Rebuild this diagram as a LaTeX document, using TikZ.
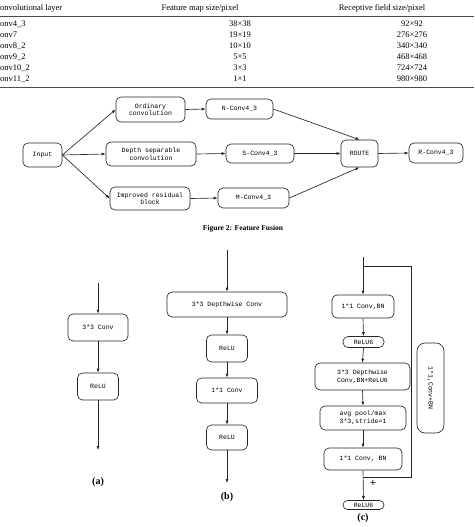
\documentclass[tikz,border=0pt]{standalone}
\usepackage{fontspec}
\setmainfont{Liberation Serif}
\newfontfamily\boxfont{Liberation Mono}
\usetikzlibrary{arrows.meta}
\begin{document}
\begin{tikzpicture}[x=1pt,y=-1pt,
  tabtxt/.style={font=\fontsize{8.5}{9}\selectfont, inner sep=0pt},
  fbox/.style={draw=black!85, line width=0.65pt, rounded corners=5pt, align=center,
    font=\boxfont\fontsize{6.5}{7.6}\selectfont, inner sep=1pt},
  conn/.style={draw=black!85, line width=0.65pt, -{Latex[length=4pt,width=3pt]}},
  plainline/.style={draw=black!85, line width=0.65pt},
  sublabel/.style={font=\bfseries\fontsize{10}{11}\selectfont, inner sep=0pt}]
\useasboundingbox (0,0) rectangle (474,527);
% ---------- table ----------
\node[tabtxt, anchor=west] (h1) at (0,8) {onvolutional layer};
\node[tabtxt] (h2) at (200,8) {Feature map size/pixel};
\node[tabtxt] (h3) at (382,8) {Receptive field size/pixel};
\draw[line width=0.8pt, black!70] (0,16) -- (474,16);
\foreach \n/\a/\b/\c/\y in {r1/onv4\_3/38×38/92×92/24,
  r2/onv7/19×19/276×276/35,
  r3/onv8\_2/10×10/340×340/46,
  r4/onv9\_2/5×5/468×468/57,
  r5/onv10\_2/3×3/724×724/68,
  r6/onv11\_2/1×1/980×980/79}{
  \node[tabtxt, anchor=west] (\n a) at (0,\y) {\a};
  \node[tabtxt] (\n b) at (240,\y) {\b};
  \node[tabtxt] (\n c) at (412,\y) {\c};
}
\draw[line width=1pt, black!70] (0,87) -- (474,87);
% ---------- figure 2 ----------
\node[fbox, minimum width=39pt, minimum height=24pt] (inp) at (42.5,155) {Input};
\node[fbox, minimum width=69pt, minimum height=25pt] (ord) at (150.5,109.5) {Ordinary\\convolution};
\node[fbox, minimum width=90pt, minimum height=24pt] (dep) at (151,154) {Depth separable\\convolution};
\node[fbox, minimum width=80pt, minimum height=23pt] (imp) at (150,198.5) {Improved residual\\block};
\node[fbox, minimum width=67pt, minimum height=20pt] (ncv) at (239.5,109) {N-Conv4\_3};
\node[fbox, minimum width=68pt, minimum height=19pt] (scv) at (260,153.5) {S-Conv4\_3};
\node[fbox, minimum width=71pt, minimum height=20pt] (mcv) at (253.5,198) {M-Conv4\_3};
\node[fbox, minimum width=37pt, minimum height=27pt] (route) at (359.5,153.5) {ROUTE};
\node[fbox, minimum width=54pt, minimum height=20pt] (rcv) at (436,153) {R-Conv4\_3};
\draw[conn] (inp.east) -- (ord.west);
\draw[conn] (inp.east) -- (dep.west);
\draw[conn] (inp.east) -- (imp.west);
\draw[conn] (ord.east) -- (ncv.west);
\draw[conn] (dep.east) -- (scv.west);
\draw[conn] (imp.east) -- (mcv.west);
\draw[conn] (ncv.east) -- (route.north);
\draw[conn] (scv.east) -- (route.west);
\draw[conn] (mcv.east) -- (route.south);
\draw[conn] (route.east) -- (rcv.west);
\node[font=\bfseries\fontsize{7.5}{9}\selectfont, inner sep=0pt] (cap) at (243,229) {Figure 2: Feature Fusion};
% ---------- (a) ----------
\coordinate (a0) at (98,283);
\node[fbox, minimum width=60pt, minimum height=27pt] (a1) at (98,327.5) {3*3 Conv};
\node[fbox, minimum width=41pt, minimum height=27pt] (a2) at (98,386.5) {ReLU};
\coordinate (a3) at (98,450);
\draw[conn] (a0) -- (a1.north);
\draw[conn] (a1.south) -- (a2.north);
\draw[conn] (a2.south) -- (a3);
\node[sublabel] (la) at (98,482) {(a)};
% ---------- (b) ----------
\coordinate (b0) at (227,250);
\node[fbox, minimum width=120pt, minimum height=25pt] (b1) at (227,304.5) {3*3 Depthwise Conv};
\node[fbox, minimum width=41pt, minimum height=27pt] (b2) at (227,348.5) {ReLU};
\node[fbox, minimum width=61pt, minimum height=25pt] (b3) at (227,390.5) {1*1 Conv};
\node[fbox, minimum width=41pt, minimum height=25pt] (b4) at (227,437.5) {ReLU};
\coordinate (b5) at (227,483);
\draw[conn] (b0) -- (b1.north);
\draw[conn] (b1.south) -- (b2.north);
\draw[conn] (b2.south) -- (b3.north);
\draw[conn] (b3.south) -- (b4.north);
\draw[conn] (b4.south) -- (b5);
\node[sublabel] (lb) at (227,497) {(b)};
% ---------- (c) ----------
\coordinate (c0) at (363,257);
\coordinate (cs) at (363,266);
\coordinate (cr1) at (411,266);
\coordinate (cr2) at (411,477);
\coordinate (ce) at (363,477);
\node[fbox, minimum width=62pt, minimum height=23pt] (c1) at (363,306.5) {1*1 Conv,BN};
\node[fbox, minimum width=41pt, minimum height=11pt, rounded corners=5pt, inner sep=0pt] (c2) at (363.5,342) {ReLU6};
\node[fbox, minimum width=95pt, minimum height=27pt] (c3) at (362.5,376.5) {3*3 Depthwise\\Conv,BN+ReLU6};
\node[fbox, minimum width=86pt, minimum height=24pt] (c4) at (363,418) {avg pool/max\\3*3,stride=1};
\node[fbox, minimum width=78pt, minimum height=22pt] (c5) at (363,459) {1*1 Conv, BN};
\node[fbox, minimum width=41pt, minimum height=9pt, rounded corners=4.5pt, inner sep=0pt] (c6) at (363.5,505) {ReLU6};
\node[fbox, minimum width=27pt, minimum height=90pt, rounded corners=8pt] (side) at (430.5,388) {};
\node[font=\boxfont\fontsize{6.5}{7.6}\selectfont, rotate=-90, inner sep=0pt] (sidet) at (side.center) {1*1,Conv+BN};
\draw[conn] (c0) -- (c1.north);
\draw[plainline] (cs) -- (cr1) -- (cr2) -- (ce);
\draw[conn] (c1.south) -- (c2.north);
\draw[conn] (c2.south) -- (c3.north);
\draw[conn] (c3.south) -- (c4.north);
\draw[conn] (c4.south) -- (c5.north);
\draw[conn] (c5.south) -- (c6.north);
\node[font=\bfseries\fontsize{11}{11}\selectfont, inner sep=0pt] (plus) at (373,483) {+};
\node[sublabel] (lc) at (363,518) {(c)};
\end{tikzpicture}
\end{document}
